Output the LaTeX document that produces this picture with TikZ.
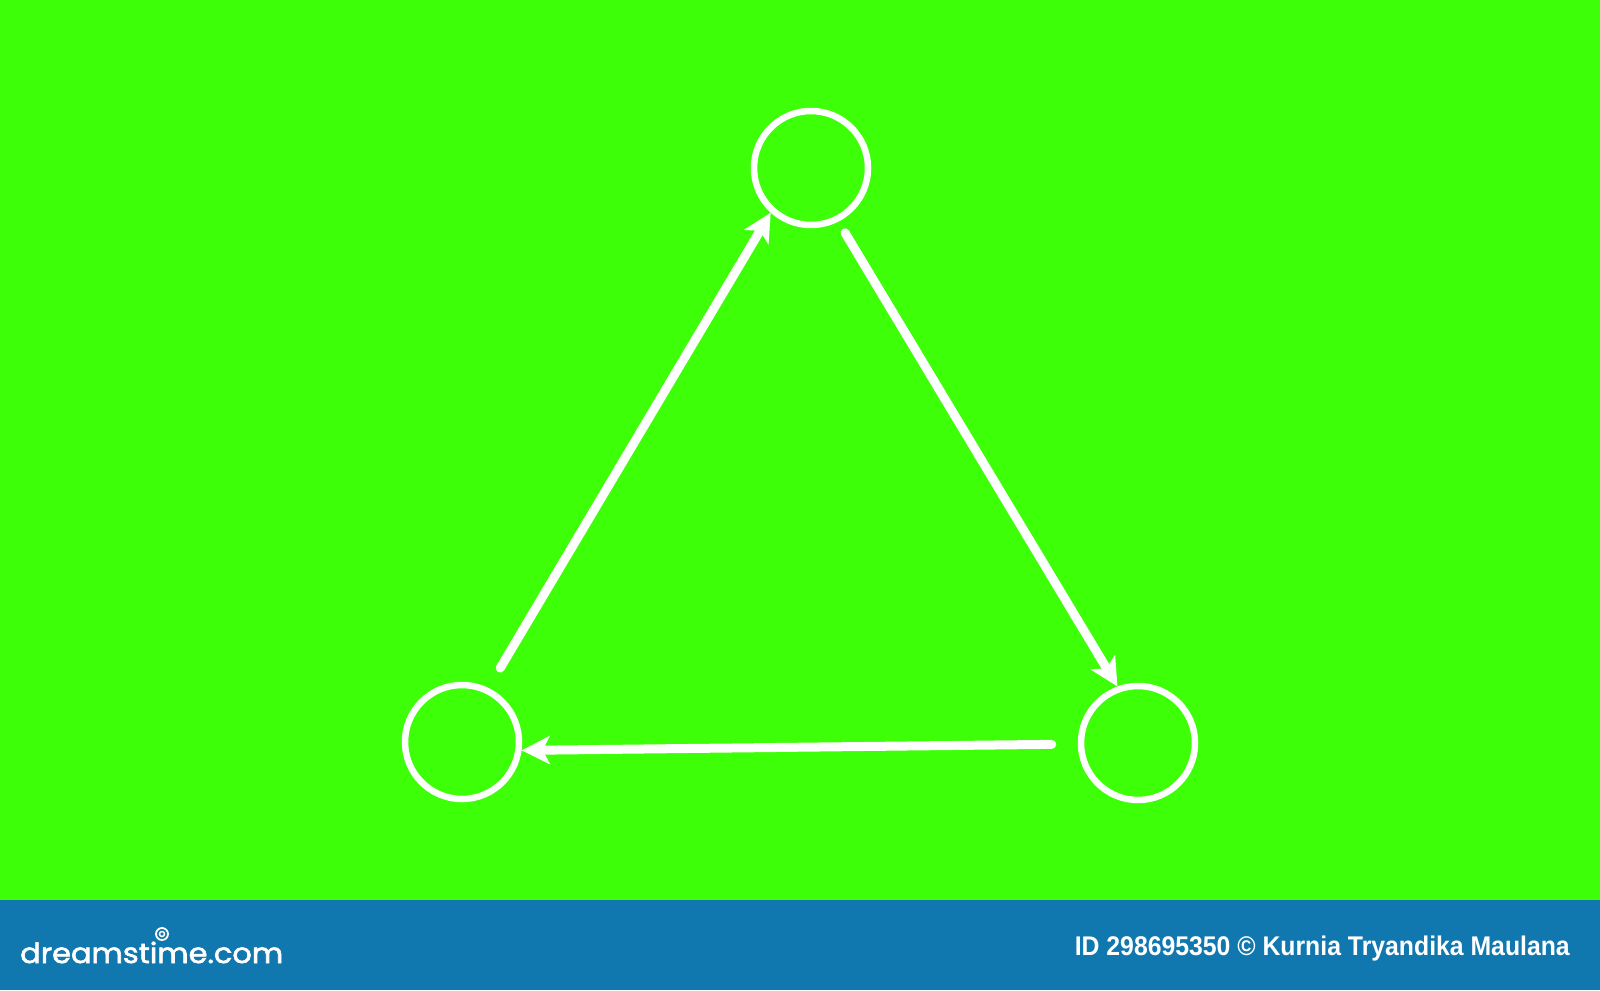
\documentclass[tikz,border=0pt]{standalone}
\usepackage{fontspec}
\setmainfont{Liberation Sans}
\newfontfamily\logofont[FakeBold=2]{Poppins}
\usetikzlibrary{arrows.meta}
\definecolor{bggreen}{RGB}{61,255,7}
\definecolor{bannerblue}{RGB}{16,119,175}
\begin{document}
\begin{tikzpicture}[x=1pt,y=-1pt,
  ring/.style={circle,draw=white,line width=6.5pt,inner sep=0pt,minimum size=114pt},
  link/.style={draw=white,line width=9pt,line cap=round,
    -{Stealth[length=28pt,width=28pt,inset=7pt]}},
  bannertext/.style={text=white,inner sep=0pt}]
\useasboundingbox (0,0) rectangle (1600,990);
\fill[bggreen] (0,0) rectangle (1600,900);
\fill[bannerblue] (0,900) rectangle (1600,990);
\node[ring] (T) at (811,168) {};
\node[ring] (L) at (462,742) {};
\node[ring] (R) at (1138,743) {};
\draw[link,shorten <=23pt] (L.64) -- (T.228);
\draw[link,shorten <=13pt] (T.297) -- (R.110);
\draw[link,shorten <=26pt] (R.181) -- (L.352);
\node[bannertext,anchor=base west,font=\logofont\fontsize{28}{28}\selectfont] (logo) at (20,963) {\resizebox{263pt}{\height}{dreamstime.com}};
\draw[white,line width=1.8pt] (162,934) circle (6pt);
\draw[white,line width=1.5pt] (162,934) circle (2.5pt);
\node[bannertext,anchor=base east,font=\bfseries\fontsize{27}{27}\selectfont] (credit) at (1570,955) {\resizebox{495pt}{\height}{ID 298695350 \textcopyright{} Kurnia Tryandika Maulana}};
\end{tikzpicture}
\end{document}
